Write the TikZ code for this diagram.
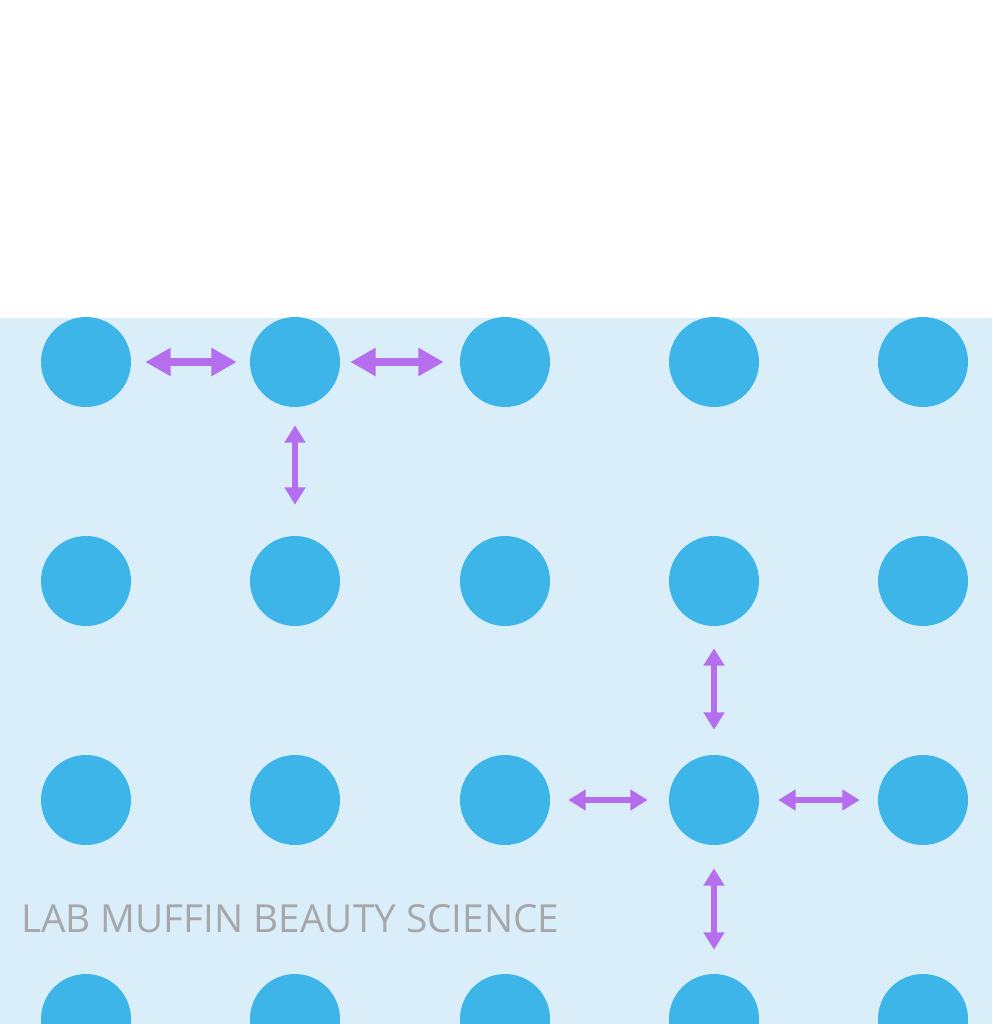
\documentclass[tikz,border=0pt]{standalone}
\usepackage{fontspec}
\setmainfont{Open Sans}
\usetikzlibrary{arrows.meta}
\definecolor{bgblue}{HTML}{D9EEF9}
\definecolor{dotblue}{HTML}{3DB5E8}
\definecolor{arrpurple}{HTML}{B56FEE}
\definecolor{txtgray}{HTML}{A5A7A9}
\tikzset{
  dot/.style={circle, fill=dotblue, draw=none, minimum size=67.5pt, inner sep=0pt},
  bigarrow/.style={draw=arrpurple, line width=6pt, {Triangle[length=19pt,width=20pt]}-{Triangle[length=19pt,width=20pt]}},
  smallarrow/.style={draw=arrpurple, line width=4.5pt, {Triangle[length=13pt,width=15pt]}-{Triangle[length=13pt,width=15pt]}},
}
\begin{document}
\begin{tikzpicture}[x=0.75pt, y=-0.75pt]
\useasboundingbox (0,0) rectangle (992,1024);
\clip (0,0) rectangle (992,1024);
\fill[white] (0,0) rectangle (992,318);
\fill[bgblue] (0,318) rectangle (992,1024);
\foreach \i/\y in {1/362, 2/581, 3/800, 4/1019} {
  \foreach \j/\x in {1/86, 2/295, 3/505, 4/714, 5/923} {
    \node[dot] (c\i\j) at (\x,\y) {};
  }
}
\draw[bigarrow, shorten <=14pt*0.75, shorten >=13pt*0.75] (c11.east) -- (c12.west);
\draw[bigarrow, shorten <=10pt*0.75, shorten >=16pt*0.75] (c12.east) -- (c13.west);
\draw[smallarrow, shorten <=18pt*0.75, shorten >=31pt*0.75] (c12.south) -- (c22.north);
\draw[smallarrow, shorten <=22pt*0.75, shorten >=25pt*0.75] (c24.south) -- (c34.north);
\draw[smallarrow, shorten <=18pt*0.75, shorten >=21pt*0.75] (c33.east) -- (c34.west);
\draw[smallarrow, shorten <=19pt*0.75, shorten >=18pt*0.75] (c34.east) -- (c35.west);
\draw[smallarrow, shorten <=23pt*0.75, shorten >=24pt*0.75] (c34.south) -- (c44.north);
\node[anchor=base west, inner sep=0pt, text=txtgray, font=\fontsize{29pt}{31pt}\selectfont] (lbl) at (21,932) {LAB MUFFIN BEAUTY SCIENCE};
\end{tikzpicture}
\end{document}
